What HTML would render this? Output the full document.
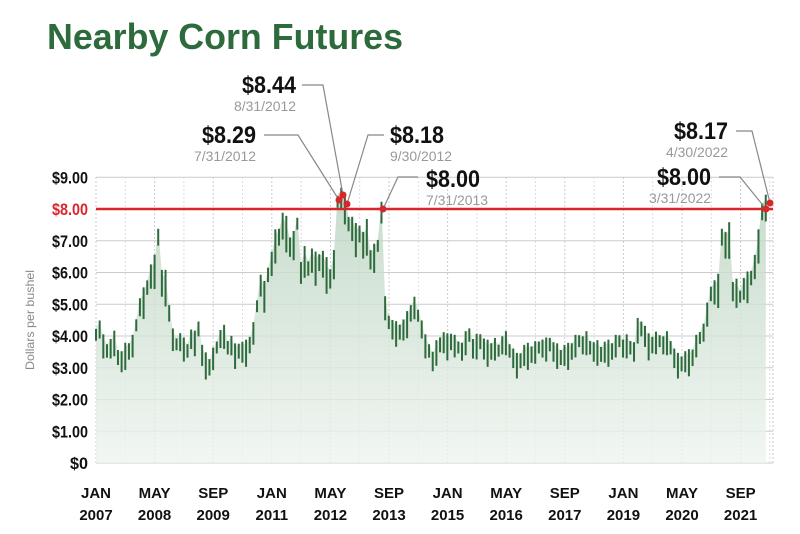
<!DOCTYPE html>
<html><head><meta charset="utf-8"><style>
body{margin:0;background:#fff;}
svg{display:block;font-family:"Liberation Sans",sans-serif;}
</style></head><body>
<svg id="s" width="800" height="534" viewBox="0 0 800 534" xmlns="http://www.w3.org/2000/svg">
<defs><linearGradient id="g" x1="0" y1="0" x2="0" y2="1"><stop offset="0" stop-color="#b9d3bf"/><stop offset="1" stop-color="#eef4ef"/></linearGradient></defs>
<text x="47" y="49" font-size="36" font-weight="bold" fill="#2e6b3c" textLength="356" lengthAdjust="spacingAndGlyphs">Nearby Corn Futures</text>
<g id="grid"></g>
<g id="data"></g>
<line x1="96" y1="209" x2="773" y2="209" stroke="#d9262c" stroke-width="2.5"/>
<g id="ann" font-weight="bold"></g>
<text transform="translate(34,320) rotate(-90)" text-anchor="middle" font-size="12" fill="#888" textLength="100" lengthAdjust="spacingAndGlyphs">Dollars per bushel</text>
</svg>
<script>
const ns="http://www.w3.org/2000/svg";
function el(p,t,a,txt){const e=document.createElementNS(ns,t);for(const k in a)e.setAttribute(k,a[k]);if(txt!=null)e.textContent=txt;document.getElementById(p).appendChild(e);return e;}
const Y=v=>463-v*31.75, X=m=>96+m*3.66;
for(let i=0;i<=9;i++){el("grid","line",{x1:96,x2:773,y1:Y(i),y2:Y(i),stroke:"#ccc","stroke-width":1});
 const lab=i==0?"$0":"$"+i+".00";
 el("grid","text",{x:88,y:Y(i)+6,"text-anchor":"end","font-size":17,"font-weight":"bold",fill:i==8?"#d9262c":"#111",textLength:i==0?18:36,lengthAdjust:"spacingAndGlyphs"},lab);}
const labs=[["JAN","2007"],["MAY","2008"],["SEP","2009"],["JAN","2011"],["MAY","2012"],["SEP","2013"],["JAN","2015"],["MAY","2016"],["SEP","2017"],["JAN","2019"],["MAY","2020"],["SEP","2021"]];
labs.forEach((l,i)=>{const x=96+i*58.6;
 el("grid","line",{x1:x,x2:x,y1:177,y2:463,stroke:"#ccc","stroke-dasharray":"2,2"});
 el("grid","line",{x1:x+29.3,x2:x+29.3,y1:177,y2:463,stroke:"#ddd","stroke-dasharray":"2,2"});
 el("grid","text",{x:x,y:498,"text-anchor":"middle","font-size":15,"font-weight":"bold",fill:"#111"},l[0]);
 el("grid","text",{x:x,y:520,"text-anchor":"middle","font-size":15,"font-weight":"bold",fill:"#111"},l[1]);});
el("grid","line",{x1:773,x2:773,y1:177,y2:463,stroke:"#ccc","stroke-dasharray":"2,2"});
const d=[4.1,4.3,3.8,3.6,3.7,3.9,3.4,3.3,3.5,3.6,3.8,4.4,
5.0,5.2,5.6,6.0,6.2,7.2,5.8,5.7,4.8,4.0,3.8,3.9,
3.7,3.6,4.0,3.9,4.3,3.5,3.2,3.1,3.4,3.7,4.0,4.1,
3.7,3.8,3.5,3.6,3.6,3.6,3.8,4.2,5.0,5.7,5.4,6.0,
6.4,7.0,7.2,7.6,7.4,6.9,7.0,7.6,6.1,6.5,6.2,6.5,
6.3,6.4,6.4,6.1,5.9,6.4,8.29,8.44,8.18,7.6,7.5,7.2,
7.3,7.0,7.3,6.5,6.6,6.9,8.0,5.0,4.5,4.3,4.2,4.2,
4.3,4.5,4.8,5.0,4.7,4.3,3.8,3.6,3.3,3.6,3.8,3.9,
3.8,3.9,3.8,3.7,3.6,3.9,4.1,3.7,3.8,3.9,3.7,3.6,
3.6,3.7,3.6,3.8,3.9,3.6,3.4,3.2,3.3,3.5,3.5,3.5,
3.6,3.7,3.7,3.7,3.8,3.6,3.5,3.4,3.5,3.5,3.6,3.8,
3.9,3.8,3.9,3.7,3.6,3.6,3.5,3.6,3.6,3.6,3.8,3.9,
3.7,3.8,3.7,3.6,4.3,4.3,4.1,3.8,3.8,3.9,3.9,3.8,
3.9,3.7,3.4,3.2,3.2,3.3,3.3,3.4,3.8,4.0,4.2,4.8,
5.4,5.5,5.6,7.2,7.0,7.2,5.5,5.5,5.3,5.6,5.7,5.9,
6.3,7.0,8.0,8.17];
let pts="96,463";
d.forEach((v,i)=>{pts+=" "+X(i)+","+Y(v+0.15);});
pts+=" "+X(d.length-1)+",463";
el("data","polygon",{points:pts,fill:"url(#g)",opacity:0.8});
d.forEach((v,i)=>{const r=0.25+((i*37)%11)/25*(v>5?1.3:0.8);
 el("data","line",{x1:X(i),x2:X(i),y1:Y(v+r*0.5),y2:Y(v-r),stroke:"#2e6b3c","stroke-width":2});});
function ann(px,py,path,tx,ty,val,dt,anchor){
 el("ann","polyline",{points:path,fill:"none",stroke:"#888","stroke-width":1.2});
 el("ann","circle",{cx:px,cy:py,r:3.5,fill:"#d9262c"});
 el("ann","text",{x:tx,y:ty,"font-size":24,fill:"#111","text-anchor":anchor,textLength:54,lengthAdjust:"spacingAndGlyphs"},val);
 el("ann","text",{x:tx,y:ty+18,"font-size":14,fill:"#999","font-weight":"normal","text-anchor":anchor,textLength:62,lengthAdjust:"spacingAndGlyphs"},dt);}
ann(343,195,"302,85 323,85 343,195",296,93,"$8.44","8/31/2012","end");
ann(339,200,"264,135 298,135 339,200",256,143,"$8.29","7/31/2012","end");
ann(347,204,"384,135 368,135 347,204",390,143,"$8.18","9/30/2012","start");
ann(383,209,"418,177 398,177 383,209",426,187,"$8.00","7/31/2013","start");
ann(770,203,"736,131 752,131 770,203",728,139,"$8.17","4/30/2022","end");
ann(766,209,"719,177 740,177 766,209",711,185,"$8.00","3/31/2022","end");
</script>
</body></html>
